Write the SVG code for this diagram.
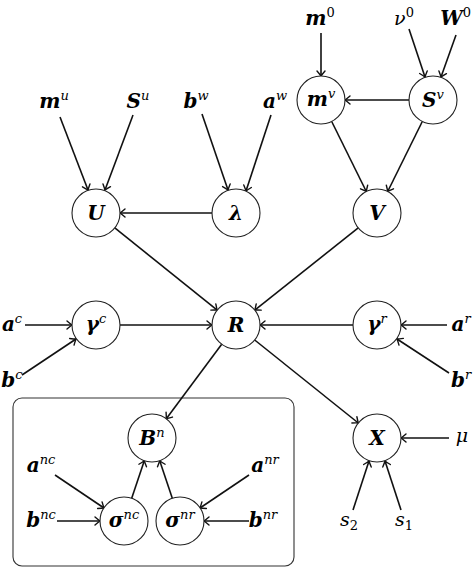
<svg xmlns="http://www.w3.org/2000/svg" width="474" height="567" viewBox="0 0 474 567">
<style>
.n circle{fill:#fff;stroke:#222;stroke-width:1.1}
text{font-family:"DejaVu Serif","Liberation Serif",serif;fill:#000}
.b{font-weight:bold;font-style:italic;font-size:20px}
.i{font-style:italic;font-size:19px}
.sup{font-weight:normal;font-style:italic;font-size:13px}
.sub{font-weight:normal;font-style:normal;font-size:13px}
.m{text-anchor:middle}
#edges line{stroke:#111;stroke-width:1.6;marker-end:url(#ah)}
</style>
<defs>
<marker id="ah" markerUnits="userSpaceOnUse" markerWidth="12" markerHeight="12" viewBox="-7 -6 8 12" refX="0" refY="0" orient="auto">
<path d="M-5,-4 Q-1.5,-1 0,0 Q-1.5,1 -5,4" fill="none" stroke="#111" stroke-width="1.4" stroke-linecap="round"/>
</marker>
</defs>
<rect id="plate" x="13" y="398" width="281" height="168" rx="9" fill="none" stroke="#333" stroke-width="1.1"/>
<g id="edges">
<line x1="60" y1="117" x2="88" y2="190"/>
<line x1="133" y1="115" x2="105" y2="190"/>
<line x1="202" y1="114" x2="228" y2="190"/>
<line x1="271" y1="115" x2="246" y2="191"/>
<line x1="212" y1="213" x2="120" y2="213"/>
<line x1="321" y1="33" x2="321" y2="76"/>
<line x1="409" y1="29" x2="425" y2="77"/>
<line x1="456" y1="35" x2="441" y2="77"/>
<line x1="409" y1="100" x2="345" y2="100"/>
<line x1="331.7" y1="121.5" x2="366.3" y2="191.5"/>
<line x1="422.3" y1="121.5" x2="387.7" y2="191.5"/>
<line x1="114.8" y1="227.9" x2="217.2" y2="310.1"/>
<line x1="358.2" y1="227.9" x2="254.8" y2="310.1"/>
<line x1="25" y1="325" x2="72" y2="325"/>
<line x1="22" y1="375" x2="76" y2="339"/>
<line x1="120" y1="325" x2="212" y2="325"/>
<line x1="447" y1="325" x2="401" y2="325"/>
<line x1="449" y1="373" x2="397" y2="339"/>
<line x1="353" y1="325" x2="260" y2="325"/>
<line x1="221.7" y1="344.3" x2="166.3" y2="418.7"/>
<line x1="254.7" y1="340" x2="358.3" y2="423"/>
<line x1="449" y1="438" x2="401" y2="438"/>
<line x1="353" y1="510" x2="369" y2="461"/>
<line x1="401" y1="510" x2="385" y2="461"/>
<line x1="131.7" y1="498.2" x2="144.3" y2="460.8"/>
<line x1="172.3" y1="498.2" x2="159.7" y2="460.8"/>
<line x1="55" y1="475" x2="104" y2="508"/>
<line x1="57" y1="521" x2="100" y2="521"/>
<line x1="249" y1="475" x2="200" y2="508"/>
<line x1="249" y1="521" x2="204" y2="521"/>
</g>
<g id="U" class="n"><circle cx="96" cy="213" r="24"/><text class="b m" x="96" y="220">U</text></g>
<g id="lambda" class="n"><circle cx="236" cy="213" r="24"/><text class="b m" x="236" y="220">λ</text></g>
<g id="V" class="n"><circle cx="377" cy="213" r="24"/><text class="b m" x="377" y="220">V</text></g>
<g id="mv" class="n"><circle cx="321" cy="100" r="24"/><text class="b m" x="321" y="106">m<tspan class="sup" dy="-8">v</tspan></text></g>
<g id="Sv" class="n"><circle cx="433" cy="100" r="24"/><text class="b m" x="433" y="107">S<tspan class="sup" dy="-8">v</tspan></text></g>
<g id="R" class="n"><circle cx="236" cy="325" r="24"/><text class="b m" x="236" y="332">R</text></g>
<g id="gc" class="n"><circle cx="96" cy="325" r="24"/><text class="b m" x="96" y="331">γ<tspan class="sup" dy="-8">c</tspan></text></g>
<g id="gr" class="n"><circle cx="377" cy="325" r="24"/><text class="b m" x="377" y="331">γ<tspan class="sup" dy="-8">r</tspan></text></g>
<g id="Bn" class="n"><circle cx="152" cy="438" r="24"/><text class="b m" x="152" y="445">B<tspan class="sup" dy="-8">n</tspan></text></g>
<g id="X" class="n"><circle cx="377" cy="438" r="24"/><text class="b m" x="377" y="445">X</text></g>
<g id="snc" class="n"><circle cx="124" cy="521" r="24"/><text class="b m" x="124" y="527">σ<tspan class="sup" dy="-8">nc</tspan></text></g>
<g id="snr" class="n"><circle cx="180" cy="521" r="24"/><text class="b m" x="180" y="527">σ<tspan class="sup" dy="-8">nr</tspan></text></g>
<g id="params">
<text class="b m" x="54" y="108">m<tspan class="sup" dy="-8">u</tspan></text>
<text class="b m" x="138" y="108">S<tspan class="sup" dy="-8">u</tspan></text>
<text class="b m" x="196" y="108">b<tspan class="sup" dy="-8">w</tspan></text>
<text class="b m" x="275" y="108">a<tspan class="sup" dy="-8">w</tspan></text>
<text class="b m" x="320" y="25">m<tspan class="sub" dy="-8">0</tspan></text>
<text class="i m" x="404" y="25">ν<tspan class="sub" dy="-8">0</tspan></text>
<text class="b" x="471" y="25" text-anchor="end">W<tspan class="sub" dy="-8">0</tspan></text>
<text class="b m" x="12" y="331">a<tspan class="sup" dy="-8">c</tspan></text>
<text class="b m" x="12" y="387">b<tspan class="sup" dy="-8">c</tspan></text>
<text class="b m" x="461" y="331">a<tspan class="sup" dy="-8">r</tspan></text>
<text class="b m" x="461" y="387">b<tspan class="sup" dy="-8">r</tspan></text>
<text class="i m" x="462" y="442">μ</text>
<text class="i m" x="349" y="526">s<tspan class="sub" dy="4">2</tspan></text>
<text class="i m" x="404" y="526">s<tspan class="sub" dy="4">1</tspan></text>
<text class="b m" x="41" y="472">a<tspan class="sup" dy="-8">nc</tspan></text>
<text class="b m" x="41" y="527">b<tspan class="sup" dy="-8">nc</tspan></text>
<text class="b m" x="265" y="472">a<tspan class="sup" dy="-8">nr</tspan></text>
<text class="b m" x="263" y="527">b<tspan class="sup" dy="-8">nr</tspan></text>
</g>
</svg>
